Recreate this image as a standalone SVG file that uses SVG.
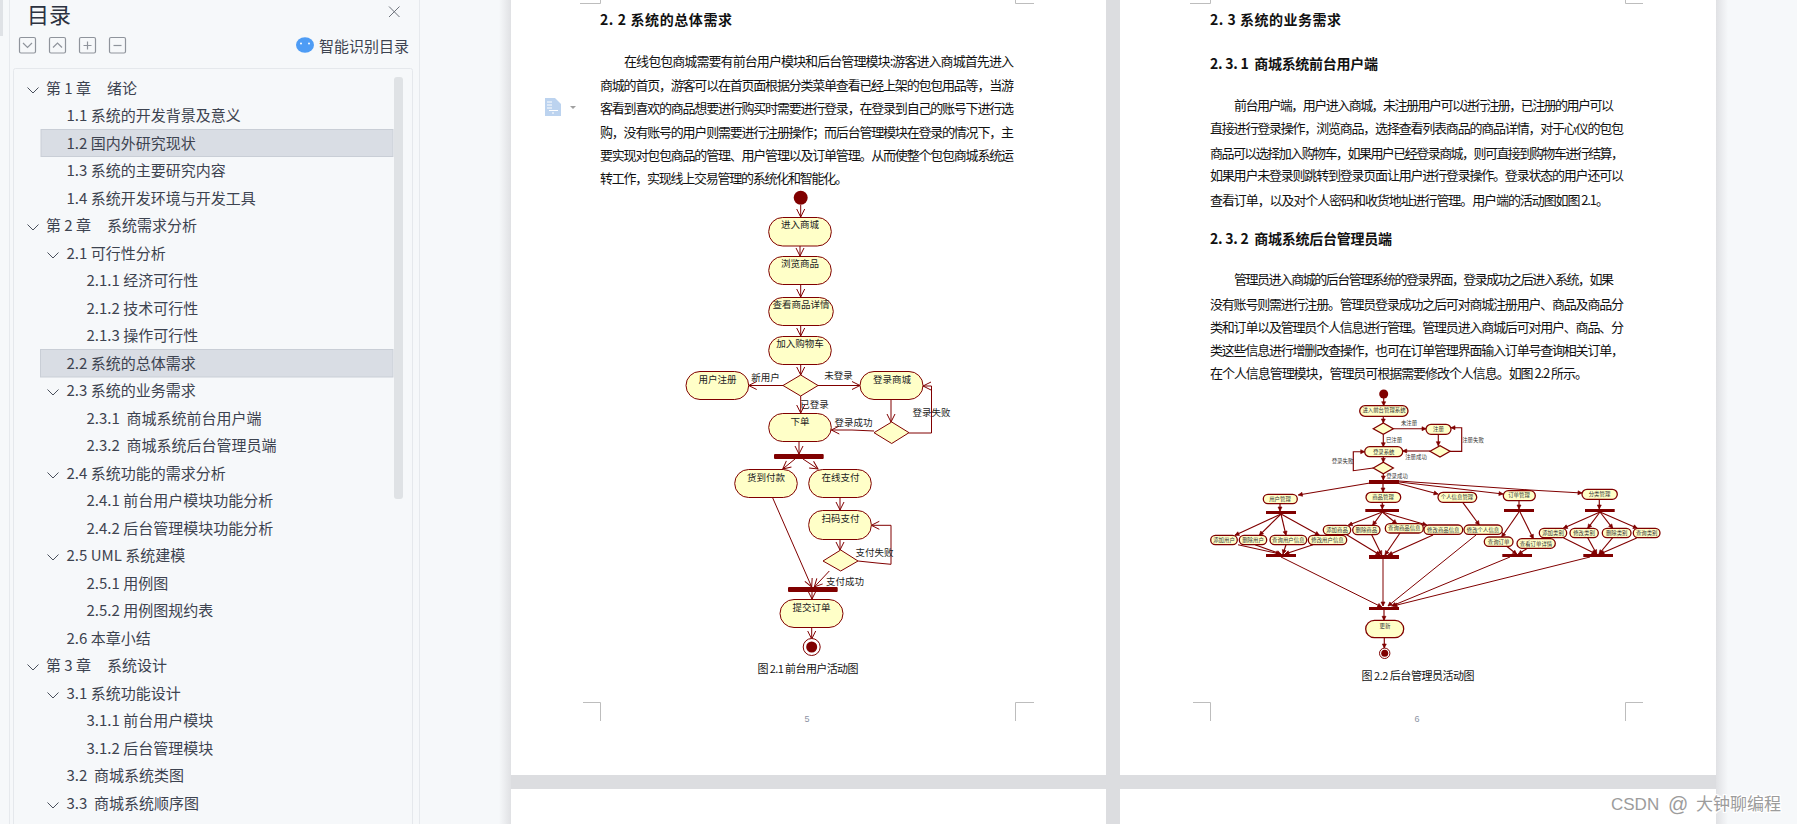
<svg xmlns="http://www.w3.org/2000/svg" width="1797" height="824" viewBox="0 0 1797 824">
<style>
text{white-space:pre;font-family:"Noto Sans CJK SC","Noto Sans",sans-serif}
.toc{font-size:15px;fill:#3d4350}
.body{font-size:13px;fill:#111}
.h{font-size:14px;font-weight:700;fill:#111}
.cap{font-size:11px;fill:#111}
.pn{font-size:9px;fill:#8c93a3;font-family:"Liberation Sans",sans-serif}
.chev{fill:none;stroke:#4a505c;stroke-width:1}
.btn{fill:none;stroke:#8f949c;stroke-width:1.2}
.mark{fill:none;stroke:#bdbdbd;stroke-width:1}
.a{fill:#ffffc8;stroke:#800000;stroke-width:1}
[id^="m-"] .a{stroke-width:1.3}
.b{fill:#800000;stroke:none}
.c{fill:none;stroke:#800000;stroke-width:1}
.cs{fill:none;stroke:#800000;stroke-width:1.15}
.t1{font-size:9.5px;fill:#222;text-anchor:middle}
.t2{font-size:5.4px;fill:#333;text-anchor:middle}
.e1{marker-end:url(#arrow)}
.e2{marker-end:url(#arrow2)}
</style>
<defs>
<marker id="arrow" markerUnits="userSpaceOnUse" markerWidth="12" markerHeight="12" refX="8" refY="4" orient="auto" overflow="visible"><path d="M0 0L8 4L0 8" fill="none" stroke="#800000"/></marker>
<marker id="arrow2" markerUnits="userSpaceOnUse" markerWidth="6" markerHeight="6" refX="4" refY="2" orient="auto" overflow="visible"><path d="M0 0L4 2L0 4Z" fill="#800000" stroke="#800000" stroke-width=".6"/></marker>
<path id="ch" d="M-5.500 -2.500L0 3L5.500 -2.500" class="chev"/>
<linearGradient id="shL" x1="0" x2="1" y1="0" y2="0"><stop offset="0" stop-color="#f6f8fa"/><stop offset="1" stop-color="#e0e1e4"/></linearGradient>
<linearGradient id="shR" x1="0" x2="1" y1="0" y2="0"><stop offset="0" stop-color="#e0e1e4"/><stop offset="1" stop-color="#f6f8fa"/></linearGradient>
</defs>

<rect width="1797" height="824" fill="#f6f8fa"/>
<rect x="499" y="0" width="12" height="824" fill="url(#shL)"/>
<rect x="1716" y="0" width="12" height="824" fill="url(#shR)"/>
<rect x="511" y="0" width="1205" height="824" fill="#dcdde0"/>
<rect x="511" y="0" width="595" height="775" fill="#fff"/>
<rect x="1120" y="0" width="596" height="775" fill="#fff"/>
<rect x="511" y="789" width="595" height="35" fill="#fff"/>
<rect x="1120" y="789" width="596" height="35" fill="#fff"/>

<g id="sidebar">
<rect x="0" y="0" width="3" height="36" fill="#dfe2e6"/>
<path d="M9.500 0V824M419.500 0V824" stroke="#e6e9ed" fill="none"/>
<text x="27" y="22.500" font-size="22" fill="#2c3240">目录</text>
<path d="M389 6.500L399.500 17M399.500 6.500L389 17" stroke="#6d727b" fill="none"/>
<rect class="btn" x="19.500" y="37.500" width="16" height="15.500" rx="1.500"/><path class="btn" d="M23 43L27.500 47.500L32 43"/>
<rect class="btn" x="49.500" y="37.500" width="16" height="15.500" rx="1.500"/><path class="btn" d="M53 47.500L57.500 43L62 47.500"/>
<rect class="btn" x="79.500" y="37.500" width="16" height="15.500" rx="1.500"/><path class="btn" d="M83.500 45.500H91.500M87.500 41.500V49.500"/>
<rect class="btn" x="109.500" y="37.500" width="16" height="15.500" rx="1.500"/><path class="btn" d="M113.500 45.500H121.500"/>
<ellipse cx="305" cy="45" rx="9" ry="7.700" fill="#4e9cf5"/><circle cx="301" cy="43.500" r="1" fill="#fff"/><circle cx="309" cy="43.500" r="1" fill="#fff"/>
<text x="319" y="52" font-size="15" fill="#3d4350" textLength="90">智能识别目录</text>
<rect x="13.500" y="68.500" width="399" height="770" rx="2" fill="none" stroke="#e5e8ec"/>
<rect x="394" y="77" width="9" height="422" rx="3" fill="#dfe2e5"/>
<rect x="41" y="129.500" width="352" height="27" fill="#d9dde4" stroke="#c9ced6"/>
<rect x="40.500" y="349.500" width="352.500" height="27.500" fill="#d9dde4" stroke="#c9ced6"/>
<use href="#ch" x="33" y="90"/><use href="#ch" x="33" y="227"/><use href="#ch" x="33" y="667"/>
<use href="#ch" x="53" y="255"/><use href="#ch" x="53" y="392"/><use href="#ch" x="53" y="475"/><use href="#ch" x="53" y="557"/><use href="#ch" x="53" y="695"/><use href="#ch" x="53" y="805"/>
<text class="toc" x="46" y="94">第 1 章<tspan x="107">绪论</tspan></text>
<text class="toc" x="66.500" y="121">1.1 系统的开发背景及意义</text>
<text class="toc" x="66.500" y="149">1.2 国内外研究现状</text>
<text class="toc" x="66.500" y="176">1.3 系统的主要研究内容</text>
<text class="toc" x="66.500" y="204">1.4 系统开发环境与开发工具</text>
<text class="toc" x="46" y="231">第 2 章<tspan x="107">系统需求分析</tspan></text>
<text class="toc" x="66.500" y="259">2.1 可行性分析</text>
<text class="toc" x="86.500" y="286">2.1.1 经济可行性</text>
<text class="toc" x="86.500" y="314">2.1.2 技术可行性</text>
<text class="toc" x="86.500" y="341">2.1.3 操作可行性</text>
<text class="toc" x="66.500" y="369">2.2 系统的总体需求</text>
<text class="toc" x="66.500" y="396">2.3 系统的业务需求</text>
<text class="toc" x="86.500" y="424">2.3.1  商城系统前台用户端</text>
<text class="toc" x="86.500" y="451">2.3.2  商城系统后台管理员端</text>
<text class="toc" x="66.500" y="479">2.4 系统功能的需求分析</text>
<text class="toc" x="86.500" y="506">2.4.1 前台用户模块功能分析</text>
<text class="toc" x="86.500" y="534">2.4.2 后台管理模块功能分析</text>
<text class="toc" x="66.500" y="561">2.5 UML 系统建模</text>
<text class="toc" x="86.500" y="589">2.5.1 用例图</text>
<text class="toc" x="86.500" y="616">2.5.2 用例图规约表</text>
<text class="toc" x="66.500" y="644">2.6 本章小结</text>
<text class="toc" x="46" y="671">第 3 章<tspan x="107">系统设计</tspan></text>
<text class="toc" x="66.500" y="699">3.1 系统功能设计</text>
<text class="toc" x="86.500" y="726">3.1.1 前台用户模块</text>
<text class="toc" x="86.500" y="754">3.1.2 后台管理模块</text>
<text class="toc" x="66.500" y="781">3.2  商城系统类图</text>
<text class="toc" x="66.500" y="809">3.3  商城系统顺序图</text>
</g>

<g id="doc-icon">
<path d="M545 98H555L561 104V116H545Z" fill="#bcd3ef"/>
<path d="M547 102H552M547 105H552M547 108H552M549 110.500H558M552 113H554" stroke="#fff" fill="none"/>
<path d="M570 106H576L573 109Z" fill="#a0a0a0"/>
</g>

<g id="page-marks">
<path class="mark" d="M580 3.500H600.500V0M1034 3.500H1015.500V0M1190 3.500H1210.500V0M1643 3.500H1625.500V0"/>
<path class="mark" d="M583 702.500H600.500V721M1034 702.500H1015.500V721M1193 702.500H1210.500V721M1643 702.500H1625.500V721"/>
</g>

<g id="page5-text">
<text class="h" x="600" y="25" textLength="132">2. 2 系统的总体需求</text>
<text class="body" x="624" y="66" textLength="390">在线包包商城需要有前台用户模块和后台管理模块:游客进入商城首先进入</text>
<text class="body" x="600" y="90" textLength="414">商城的首页，游客可以在首页面根据分类菜单查看已经上架的包包用品等，当游</text>
<text class="body" x="600" y="113" textLength="414">客看到喜欢的商品想要进行购买时需要进行登录，在登录到自己的账号下进行选</text>
<text class="body" x="600" y="136.500" textLength="414">购，没有账号的用户则需要进行注册操作；而后台管理模块在登录的情况下，主</text>
<text class="body" x="600" y="160" textLength="414">要实现对包包商品的管理、用户管理以及订单管理。从而使整个包包商城系统运</text>
<text class="body" x="600" y="183" textLength="248">转工作，实现线上交易管理的系统化和智能化。</text>
<text class="cap" x="757.500" y="672.500" textLength="101">图 2.1 前台用户活动图</text>
<text class="pn" x="807" y="722" text-anchor="middle">5</text>
</g>

<g id="page6-text">
<text class="h" x="1210" y="25" textLength="131">2. 3 系统的业务需求</text>
<text class="h" x="1210" y="69" textLength="168">2. 3. 1  商城系统前台用户端</text>
<text class="body" x="1234" y="110" textLength="380">前台用户端，用户进入商城，未注册用户可以进行注册，已注册的用户可以</text>
<text class="body" x="1210" y="133" textLength="414">直接进行登录操作，浏览商品，选择查看列表商品的商品详情，对于心仪的包包</text>
<text class="body" x="1210" y="157.500" textLength="414">商品可以选择加入购物车，如果用户已经登录商城，则可直接到购物车进行结算，</text>
<text class="body" x="1210" y="180" textLength="414">如果用户未登录则跳转到登录页面让用户进行登录操作。登录状态的用户还可以</text>
<text class="body" x="1210" y="205" textLength="399">查看订单，以及对个人密码和收货地址进行管理。用户端的活动图如图 2.1。</text>
<text class="h" x="1210" y="244" textLength="182">2. 3. 2  商城系统后台管理员端</text>
<text class="body" x="1234" y="284" textLength="380">管理员进入商城的后台管理系统的登录界面，登录成功之后进入系统，如果</text>
<text class="body" x="1210" y="309" textLength="414">没有账号则需进行注册。管理员登录成功之后可对商城注册用户、商品及商品分</text>
<text class="body" x="1210" y="331.500" textLength="414">类和订单以及管理员个人信息进行管理。管理员进入商城后可对用户、商品、分</text>
<text class="body" x="1210" y="355" textLength="414">类这些信息进行增删改查操作，也可在订单管理界面输入订单号查询相关订单，</text>
<text class="body" x="1210" y="378" textLength="378">在个人信息管理模块，管理员可根据需要修改个人信息。如图 2.2 所示。</text>
<text class="cap" x="1361.500" y="679.500" textLength="113">图 2.2 后台管理员活动图</text>
<text class="pn" x="1417" y="722" text-anchor="middle">6</text>
</g>

<g id="connectors-1">
<path class="c e1" d="M800.700 205V217"/>
<path class="c e1" d="M800 246V256"/>
<path class="c e1" d="M800.700 284.500V297"/>
<path class="c e1" d="M800.700 325V336"/>
<path class="c e1" d="M800.700 364V375"/>
<path class="c e1" d="M783 385.500H748.700"/>
<path class="c e1" d="M818 385.500H860"/>
<path class="c e1" d="M800.700 396V413"/>
<path class="c e1" d="M891 399V422"/>
<path class="c e1" d="M909 433H931.500V386H923"/>
<path class="c e1" d="M874 431L852 430H831.300"/>
<path class="c e1" d="M799 441V454"/>
<path class="c e1" d="M795 459L782.700 469"/>
<path class="c e1" d="M803 459L818 469"/>
<path class="c e1" d="M840 497V510"/>
<path class="c e1" d="M840 539V550"/>
<path class="c e1" d="M858 561L877 563L891 564.300V525.300H871.300"/>
<path class="c e1" d="M772.300 497L811.700 587"/>
<path class="c e1" d="M829.300 571L814.300 587"/>
<path class="c e1" d="M812 592V599"/>
<path class="c e1" d="M811.700 627V639"/>
</g>
<g id="edge-labels-1">
<text class="t1" x="765.500" y="380.500">新用户</text>
<text class="t1" x="838.500" y="378.500">未登录</text>
<text class="t1" x="814.500" y="407.500">已登录</text>
<text class="t1" x="853.500" y="425.500">登录成功</text>
<text class="t1" x="931.500" y="415.500">登录失败</text>
<text class="t1" x="874.500" y="555.500">支付失败</text>
<text class="t1" x="845" y="584.500">支付成功</text>
</g>
<g id="start1"><circle class="b" cx="800.700" cy="197.700" r="7"/></g>
<g id="n-enter"><rect class="a" x="768.700" y="217.500" width="62.600" height="28.500" rx="14"/><text class="t1" x="800" y="228">进入商城</text></g>
<g id="n-browse"><rect class="a" x="768.700" y="256.500" width="62.600" height="28" rx="14"/><text class="t1" x="800" y="267">浏览商品</text></g>
<g id="n-detail"><rect class="a" x="768.700" y="297.500" width="64.600" height="28" rx="14"/><text class="t1" x="801" y="308">查看商品详情</text></g>
<g id="n-cart"><rect class="a" x="768.700" y="336.500" width="62.600" height="28" rx="14"/><text class="t1" x="800" y="347">加入购物车</text></g>
<g id="n-d1"><path class="a" d="M783 385.500L800.700 375L818 385.500L800.700 396Z"/></g>
<g id="n-register"><rect class="a" x="686" y="371.500" width="62.700" height="28" rx="14"/><text class="t1" x="717.500" y="382.500">用户注册</text></g>
<g id="n-login"><rect class="a" x="860" y="371.500" width="63" height="28" rx="14"/><text class="t1" x="892" y="382.500">登录商城</text></g>
<g id="n-order"><rect class="a" x="768.700" y="413.500" width="62.600" height="28" rx="14"/><text class="t1" x="800" y="424.500">下单</text></g>
<g id="n-d2"><path class="a" d="M874 432.700L891.700 422L909 432.700L891.700 443.500Z"/></g>
<g id="n-fork1"><rect class="b" x="774" y="454" width="49.700" height="5" rx="1"/></g>
<g id="n-cod"><rect class="a" x="734.700" y="469.500" width="62.600" height="28" rx="14"/><text class="t1" x="766" y="480.500">货到付款</text></g>
<g id="n-online"><rect class="a" x="808.700" y="469.500" width="62.600" height="28" rx="14"/><text class="t1" x="840.500" y="480.500">在线支付</text></g>
<g id="n-scan"><rect class="a" x="808.700" y="510.500" width="62.600" height="29" rx="14"/><text class="t1" x="840.500" y="521.500">扫码支付</text></g>
<g id="n-d3"><path class="a" d="M823 561L840.700 550L858 561L840.700 571Z"/></g>
<g id="n-fork2"><rect class="b" x="788" y="587" width="49.700" height="5" rx="1"/></g>
<g id="n-submit"><rect class="a" x="780" y="599.500" width="63" height="28" rx="14"/><text class="t1" x="811.500" y="610.500">提交订单</text></g>
<g id="end1"><circle cx="811.700" cy="647" r="8.500" fill="#fff" stroke="#800000"/><circle class="b" cx="811.700" cy="647" r="5.500"/></g>

<g id="connectors-2">
<path class="cs e2" d="M1383.700 398V405.700"/>
<path class="cs e2" d="M1383.300 416.300V423"/>
<path class="cs e2" d="M1393.300 428.700H1426"/>
<path class="cs e2" d="M1438.300 434.300V445.700"/>
<path class="cs e2" d="M1450 451.300H1461.700V427.700H1451"/>
<path class="cs e2" d="M1430 451H1402.700"/>
<path class="cs e2" d="M1383.300 434.300V446.700"/>
<path class="cs e2" d="M1383.300 456.700V462.300"/>
<path class="cs e2" d="M1373.300 468L1353.300 470.700V451.700H1364.700"/>
<path class="cs e2" d="M1383.300 473.700V480"/>
<path class="cs e2" d="M1370 483L1298.300 495"/>
<path class="cs e2" d="M1383 484V492"/>
<path class="cs e2" d="M1397 483L1438 494"/>
<path class="cs e2" d="M1399 482L1503 494"/>
<path class="cs e2" d="M1399 481L1530 490L1582 493"/>
<path class="cs e2" d="M1280 503.700V511"/>
<path class="cs e2" d="M1281 514L1235 535.300"/>
<path class="cs e2" d="M1281 514L1259.300 535.300"/>
<path class="cs e2" d="M1281 514L1286 535.300"/>
<path class="cs e2" d="M1281 514L1319.300 535.300"/>
<path class="cs e2" d="M1238 544.700L1280 554"/>
<path class="cs e2" d="M1255 544.700L1281 554"/>
<path class="cs e2" d="M1286 544.700L1283 554"/>
<path class="cs e2" d="M1313 544.700L1285 554"/>
<path class="cs e2" d="M1382.300 502.300V509"/>
<path class="cs e2" d="M1382.300 512L1348.300 525.300"/>
<path class="cs e2" d="M1382.300 512L1372.700 525.300"/>
<path class="cs e2" d="M1382.300 512L1396.700 523.700"/>
<path class="cs e2" d="M1382.300 512L1426.700 525"/>
<path class="cs e2" d="M1346.700 534.700L1380 555"/>
<path class="cs e2" d="M1371.700 534.700L1381.700 555"/>
<path class="cs e2" d="M1400 533L1385 555"/>
<path class="cs e2" d="M1433 535L1388.300 555"/>
<path class="cs e2" d="M1462.700 502.300L1479.300 525"/>
<path class="cs e2" d="M1519 500.700V509"/>
<path class="cs e2" d="M1519 512L1501.700 537"/>
<path class="cs e2" d="M1520 512L1533.300 538.700"/>
<path class="cs e2" d="M1506.700 546.300L1516.700 554.300"/>
<path class="cs e2" d="M1527.300 548.300L1518.300 554.300"/>
<path class="cs e2" d="M1599.300 499.300V509"/>
<path class="cs e2" d="M1600 512L1563.300 528.300"/>
<path class="cs e2" d="M1600 512L1587.700 528.300"/>
<path class="cs e2" d="M1600 512L1612.700 528.300"/>
<path class="cs e2" d="M1600 512L1637.300 528.300"/>
<path class="cs e2" d="M1563.300 537.700L1596 554"/>
<path class="cs e2" d="M1587.700 537.700L1596.700 554"/>
<path class="cs e2" d="M1612.700 537.700L1599 554"/>
<path class="cs e2" d="M1636.700 538L1600 554"/>
<path class="c e2" d="M1281 557L1381.700 607"/>
<path class="c e2" d="M1383 559V606"/>
<path class="c e2" d="M1476 535L1388 606"/>
<path class="c e2" d="M1510 557L1391.700 606"/>
<path class="c e2" d="M1590 557L1393 606"/>
<path class="cs e2" d="M1384 609.700V620.300"/>
<path class="cs e2" d="M1384.300 637.700V648"/>
</g>
<g id="edge-labels-2">
<text class="t2" x="1409" y="425">未注册</text>
<text class="t2" x="1394" y="442">已注册</text>
<text class="t2" x="1473" y="442">注册失败</text>
<text class="t2" x="1416" y="459">注册成功</text>
<text class="t2" x="1342.500" y="463">登录失败</text>
<text class="t2" x="1397" y="478">登录成功</text>
</g>
<g id="start2"><circle class="b" cx="1383.700" cy="394" r="4.500"/></g>
<g id="m-enter"><rect class="a" x="1359.700" y="405.700" width="48.300" height="10.600" rx="5.300"/><text class="t2" x="1384" y="412">进入前台管理系统</text></g>
<g id="m-d1"><path class="a" d="M1373.300 428.700L1383.300 423L1393.300 428.700L1383.300 434.300Z"/></g>
<g id="m-reg"><rect class="a" x="1426" y="424.300" width="25" height="10" rx="5"/><text class="t2" x="1438.500" y="430.500">注册</text></g>
<g id="m-d2"><path class="a" d="M1430 451.300L1440 445.700L1450 451.300L1440 457Z"/></g>
<g id="m-login"><rect class="a" x="1364.700" y="446.700" width="38" height="10" rx="5"/><text class="t2" x="1383.700" y="453.500">登录系统</text></g>
<g id="m-d3"><path class="a" d="M1373.300 468L1383.300 462.300L1393.300 468L1383.300 473.700Z"/></g>
<g id="m-bar0"><rect class="b" x="1369" y="480" width="30" height="4"/></g>
<g id="m-user"><rect class="a" x="1263.300" y="494.300" width="34" height="9.400" rx="4.700"/><text class="t2" x="1280" y="501">用户管理</text></g>
<g id="m-goods"><rect class="a" x="1366" y="492.300" width="34.700" height="10" rx="5"/><text class="t2" x="1383" y="499">商品管理</text></g>
<g id="m-info"><rect class="a" x="1438" y="492.300" width="38.700" height="10" rx="5"/><text class="t2" x="1457" y="499">个人信息管理</text></g>
<g id="m-ord"><rect class="a" x="1503.300" y="490.700" width="32" height="10" rx="5"/><text class="t2" x="1519" y="497">订单管理</text></g>
<g id="m-cat"><rect class="a" x="1582" y="489.300" width="35.300" height="10" rx="5"/><text class="t2" x="1599.500" y="495.500">分类管理</text></g>
<g id="m-bar1"><rect class="b" x="1266" y="511" width="30" height="3"/></g>
<g id="m-bar2"><rect class="b" x="1365.300" y="509" width="33.700" height="3"/></g>
<g id="m-bar3"><rect class="b" x="1504" y="509" width="30" height="3"/></g>
<g id="m-bar4"><rect class="b" x="1585" y="509" width="29.700" height="3"/></g>
<g id="m-u1"><rect class="a" x="1210.700" y="535.300" width="26.600" height="9.400" rx="4.700"/><text class="t2" x="1224" y="542">添加用户</text></g>
<g id="m-u2"><rect class="a" x="1239.300" y="535.300" width="27.400" height="9.400" rx="4.700"/><text class="t2" x="1253" y="542">删除用户</text></g>
<g id="m-u3"><rect class="a" x="1270" y="535.300" width="36.700" height="9.400" rx="4.700"/><text class="t2" x="1288.300" y="542">查询用户信息</text></g>
<g id="m-u4"><rect class="a" x="1308.300" y="535.300" width="38.400" height="9.400" rx="4.700"/><text class="t2" x="1327.500" y="542">修改用户信息</text></g>
<g id="m-g1"><rect class="a" x="1323.300" y="525.300" width="27.400" height="9.400" rx="4.700"/><text class="t2" x="1337" y="532">添加商品</text></g>
<g id="m-g2"><rect class="a" x="1352.700" y="525.300" width="27.300" height="9.400" rx="4.700"/><text class="t2" x="1366.300" y="532">删除商品</text></g>
<g id="m-g3"><rect class="a" x="1385.300" y="523.700" width="38" height="9.300" rx="4.600"/><text class="t2" x="1404.300" y="530.300">查询商品信息</text></g>
<g id="m-g4"><rect class="a" x="1424" y="525" width="38.700" height="9.300" rx="4.600"/><text class="t2" x="1443.300" y="531.700">修改商品信息</text></g>
<g id="m-i1"><rect class="a" x="1464" y="525" width="38.300" height="9.300" rx="4.600"/><text class="t2" x="1483" y="531.700">修改个人信息</text></g>
<g id="m-o1"><rect class="a" x="1484.300" y="537" width="28.700" height="9.300" rx="4.600"/><text class="t2" x="1498.600" y="543.500">查询订单</text></g>
<g id="m-o2"><rect class="a" x="1517" y="538.700" width="38.300" height="9.600" rx="4.800"/><text class="t2" x="1536" y="545.500">查看订单详情</text></g>
<g id="m-c1"><rect class="a" x="1539.300" y="528.300" width="27.400" height="9.400" rx="4.700"/><text class="t2" x="1553" y="535">添加类别</text></g>
<g id="m-c2"><rect class="a" x="1570" y="528.300" width="28.300" height="9.400" rx="4.700"/><text class="t2" x="1584" y="535">修改类别</text></g>
<g id="m-c3"><rect class="a" x="1602.300" y="528.300" width="28.700" height="9.400" rx="4.700"/><text class="t2" x="1616.700" y="535">删除类别</text></g>
<g id="m-c4"><rect class="a" x="1633.300" y="528.300" width="26.700" height="9.400" rx="4.700"/><text class="t2" x="1646.700" y="535">查询类别</text></g>
<g id="m-bar5"><rect class="b" x="1266" y="554" width="30" height="3"/></g>
<g id="m-bar6"><rect class="b" x="1369" y="555" width="30" height="4"/></g>
<g id="m-bar7"><rect class="b" x="1502.300" y="554" width="29.700" height="3"/></g>
<g id="m-bar8"><rect class="b" x="1583.300" y="554" width="29.700" height="3"/></g>
<g id="m-bar9"><rect class="b" x="1369" y="607" width="30" height="3"/></g>
<g id="m-update"><rect class="a" x="1365.700" y="620.300" width="38" height="17.400" rx="8.700"/><text class="t2" x="1385" y="627.500">更新</text></g>
<g id="end2"><circle cx="1384.700" cy="653.300" r="5.200" fill="#fff" stroke="#800000"/><circle class="b" cx="1384.700" cy="653.300" r="3.500"/></g>

<text x="1611" y="809.500" font-size="17" fill="#9c9c9c" stroke="#fff" stroke-width="2.500" paint-order="stroke" style="font-family:'Liberation Sans','Noto Sans CJK SC',sans-serif">CSDN<tspan x="1668" font-size="20" y="810.500">@</tspan><tspan x="1696" y="809.500">大钟聊编程</tspan></text>
</svg>
